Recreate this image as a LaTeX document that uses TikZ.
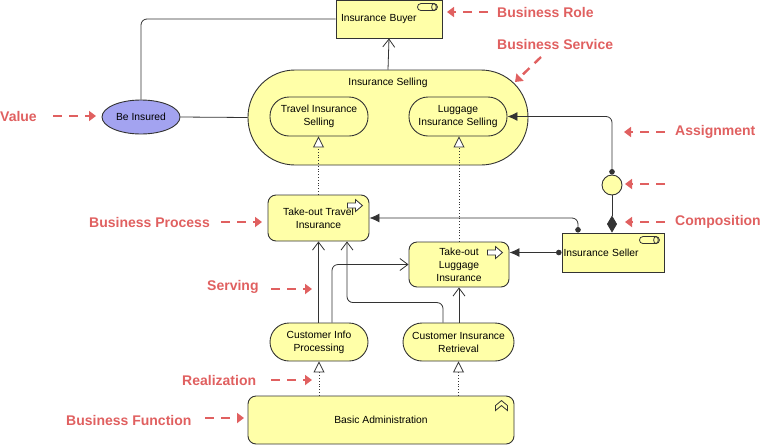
\documentclass[tikz,border=0pt]{standalone}
\usepackage{fontspec}
\setmainfont{Liberation Sans}
\usetikzlibrary{arrows.meta,shapes.geometric}
\definecolor{yel}{HTML}{FFFFA8}
\definecolor{lav}{HTML}{A3A3F0}
\definecolor{red}{HTML}{E06060}
\definecolor{ln}{HTML}{333333}
\begin{document}
\begin{tikzpicture}[x=1pt,y=-1pt,
 el/.style={draw=ln,fill=yel,line width=0.9pt,font=\fontsize{10.3}{13}\selectfont,align=center,inner sep=1pt},
 st/.style={el,rounded corners=#1},
 con/.style={draw=ln,line width=0.8pt},
 serv/.style={con,-{Straight Barb[length=8pt,width=12pt]}},
 real/.style={con,dotted,-{Triangle[open,length=11pt,width=11pt,fill=white]}},
 assg/.style={con,{Circle[length=5.5pt]}-{Latex[length=10pt,width=9pt]},rounded corners=6},
 lab/.style={text=red,font=\bfseries\fontsize{14}{16}\selectfont,anchor=west,inner sep=0pt},
 rar/.style={draw=red,line width=2.4pt,dash pattern=on 9pt off 7pt,-{Triangle[length=7pt,width=10pt]}}]
\useasboundingbox (0,0) rectangle (768,445);
% nodes
\node[el,minimum width=106,minimum height=38,text width=96,align=left] (buyer) at (389,19) {Insurance Buyer};
\node[st=47,minimum width=280,minimum height=95] (sell) at (388,117.5) {};
\node[font=\fontsize{10.3}{13}\selectfont] (selllab) at (388,83) {Insurance Selling};
\node[st=19,minimum width=98,minimum height=39] (tis) at (319,116.5) {Travel Insurance\\Selling};
\node[st=19,minimum width=98,minimum height=39] (lis) at (458,116.5) {Luggage\\Insurance Selling};
\node[el,ellipse,fill=lav,minimum width=78,minimum height=34,inner sep=0pt] (be) at (141,117) {Be Insured};
\node[st=8,minimum width=101,minimum height=46] (tot) at (318.5,218) {Take-out Travel\\Insurance};
\node[st=8,minimum width=100,minimum height=45] (tol) at (459,264.5) {Take-out\\Luggage\\Insurance};
\node[el,minimum width=102,minimum height=39,text width=99,align=left] (seller) at (613,252.5) {Insurance Seller};
\node[el,circle,minimum size=20] (circ) at (612,185) {};
\node[st=19,minimum width=98,minimum height=38] (cip) at (319,342) {Customer Info\\Processing};
\node[st=19,minimum width=111,minimum height=38] (cir) at (458.5,342) {Customer Insurance\\Retrieval};
\node[st=8,minimum width=266,minimum height=48] (ba) at (381,420) {Basic Administration};
% icons
\foreach \n in {buyer,seller}{
 \draw[ln,line width=0.8pt,rounded corners=3.5] ([xshift=-25,yshift=-4]\n.north east) rectangle ([xshift=-5,yshift=-11]\n.north east);
 \draw[ln,line width=0.8pt] ([xshift=-8.5,yshift=-7.5]\n.north east) ellipse (2.3 and 3.5);}
\foreach \n in {tot,tol}{
 \draw[ln,line width=0.8pt,fill=white,shift={([xshift=-15,yshift=-11]\n.north east)}] (-7,-2.5)--(1,-2.5)--(1,-6)--(8,0)--(1,6)--(1,2.5)--(-7,2.5)--cycle;}
\draw[ln,line width=0.8pt,shift={([xshift=-13,yshift=-11]ba.north east)}] (-6,4)--(-6,-1)--(0,-6)--(6,-1)--(6,4)--(0,-1)--cycle;
% connectors
\draw[con,rounded corners=6] (be.north) |- (buyer.west);
\draw[con] (be.east) -- (sell.west);
\draw[serv] (sell.north) -- (buyer.south);
\draw[real] (tot.north) -- (tot.north |- tis.south);
\draw[real] (tol.north) -- (tol.north |- lis.south);
\draw[assg] (circ.north) |- (lis.east);
\draw[con,{Diamond[length=17pt,width=10pt]}-] (seller.north -| circ) -- (circ.south);
\draw[assg] ([xshift=-35]seller.north) |- (tot.east);
\draw[con,{Circle[length=5.5pt]}-{Latex[length=10pt,width=9pt]}] (seller.west) -- (seller.west -| tol.east);
\draw[serv] (cip.north -| tot.south) -- (tot.south);
\draw[serv,rounded corners=6] ([xshift=13]cip.north) |- (tol.west);
\draw[serv,rounded corners=6] ([xshift=-15.5]cir.north) -- ++(0,-20) -| ([xshift=28.5]tot.south);
\draw[serv] (tol.south |- cir.north) -- (tol.south);
\draw[real] (ba.north -| cip.south) -- (cip.south);
\draw[real] (ba.north -| cir.south) -- (cir.south);
% annotations
\node[lab] (l1) at (497,12) {Business Role};
\draw[rar] (488,12) -- (447,12);
\node[lab] (l2) at (497,44) {Business Service};
\draw[rar] (541,57) -- (515,82);
\node[lab] (l3) at (0,116) {Value};
\draw[rar] (53,116) -- (96,116);
\node[lab] (l4) at (675,132) {Assignment};
\draw[rar] (665,132) -- (624,132);
\draw[rar] (665,184) -- (625,184);
\node[lab] (l5) at (675,222) {Composition};
\draw[rar] (665,222) -- (625,222);
\node[lab] (l6) at (89,222) {Business Process};
\draw[rar] (221,222) -- (262,222);
\node[lab] (l7) at (207,287) {Serving};
\draw[rar] (271,289) -- (312,289);
\node[lab] (l8) at (182,380) {Realization};
\draw[rar] (271,380) -- (312,380);
\node[lab] (l9) at (66,420) {Business Function};
\draw[rar] (205,418) -- (244,418);
\end{tikzpicture}
\end{document}
